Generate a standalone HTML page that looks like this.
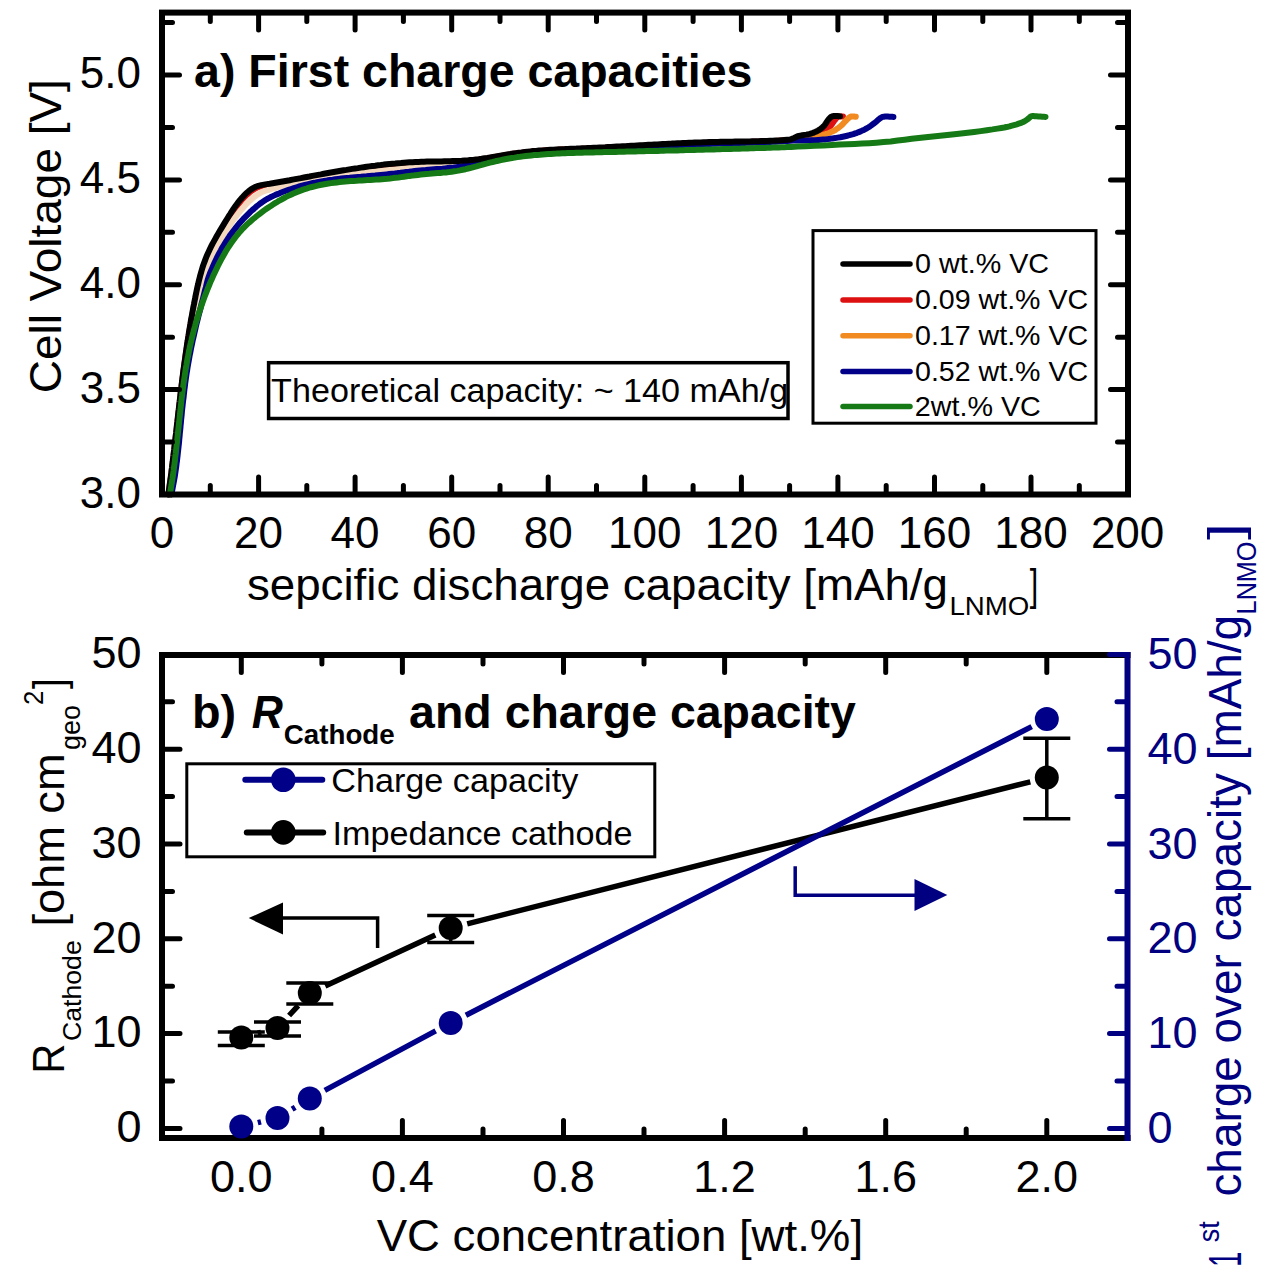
<!DOCTYPE html>
<html><head><meta charset="utf-8"><style>
html,body{margin:0;padding:0;background:#fff;}
svg{display:block;}
text{font-family:"Liberation Sans",sans-serif;}
</style></head><body>
<svg width="1280" height="1280" viewBox="0 0 1280 1280" font-family="Liberation Sans, sans-serif">
<rect width="1280" height="1280" fill="#fff"/>
<g fill="none" stroke-width="6.0" stroke-linejoin="round" stroke-linecap="round">
<path d="M168.5,494.5 L168.7,493.1 L169.1,490.2 L169.5,487.4 L169.9,484.5 L170.3,481.6 L170.7,478.8 L171.1,475.9 L171.5,473.1 L171.8,470.2 L172.2,467.4 L172.6,464.5 L172.9,461.6 L173.3,458.8 L173.6,455.9 L173.9,453.1 L174.3,450.2 L174.6,447.3 L174.9,444.5 L175.3,441.6 L175.6,438.7 L175.9,435.9 L176.2,433.0 L176.6,430.2 L176.9,427.3 L177.2,424.4 L177.5,421.6 L177.8,418.7 L178.2,415.8 L178.5,413.0 L178.8,410.1 L179.1,407.2 L179.5,404.4 L179.8,401.5 L180.1,398.6 L180.5,395.8 L180.8,392.9 L181.1,390.0 L181.5,387.2 L181.8,384.3 L182.2,381.5 L182.5,378.6 L182.9,375.7 L183.3,372.9 L183.7,370.0 L184.0,367.1 L184.4,364.3 L184.8,361.4 L185.2,358.6 L185.6,355.7 L186.0,352.9 L186.5,350.0 L186.9,347.1 L187.3,344.3 L187.8,341.4 L188.2,338.6 L188.7,335.7 L189.2,332.9 L189.6,330.1 L190.1,327.2 L190.6,324.4 L191.1,321.5 L191.7,318.7 L192.2,315.8 L192.7,313.0 L193.3,310.2 L193.8,307.3 L194.4,304.5 L194.9,301.7 L195.5,298.8 L196.1,296.0 L196.7,293.2 L197.3,290.4 L197.9,287.6 L198.6,284.7 L199.2,281.9 L200.0,279.1 L200.7,276.4 L201.5,273.6 L202.3,270.8 L203.2,268.1 L204.1,265.3 L205.0,262.6 L206.1,259.9 L207.1,257.2 L208.3,254.6 L209.5,252.0 L210.7,249.4 L212.0,246.8 L213.3,244.2 L214.7,241.7 L216.1,239.2 L217.5,236.7 L219.0,234.2 L220.5,231.7 L222.0,229.2 L223.5,226.8 L225.0,224.3 L226.5,221.9 L228.1,219.4 L229.6,217.0 L231.2,214.6 L232.7,212.2 L234.4,209.8 L236.0,207.4 L237.7,205.1 L239.5,202.8 L241.3,200.6 L243.2,198.5 L245.2,196.4 L247.3,194.4 L249.5,192.5 L251.7,190.7 L254.2,189.1 L256.7,187.8 L259.4,186.8 L262.2,186.1 L265.0,185.5 L267.9,185.0 L270.7,184.5 L273.5,183.9 L276.4,183.4 L279.2,182.9 L282.0,182.3 L284.8,181.8 L287.7,181.2 L290.5,180.7 L293.3,180.2 L296.2,179.6 L299.0,179.1 L301.8,178.5 L304.7,178.0 L307.5,177.5 L310.3,176.9 L313.2,176.4 L316.0,175.9 L318.9,175.4 L321.7,174.9 L324.5,174.4 L327.4,173.9 L330.2,173.4 L333.1,172.9 L335.9,172.4 L338.7,171.9 L341.6,171.4 L344.4,171.0 L347.3,170.5 L350.1,170.1 L353.0,169.6 L355.8,169.2 L358.7,168.8 L361.5,168.4 L364.4,168.0 L367.3,167.6 L370.1,167.2 L373.0,166.9 L375.9,166.5 L378.8,166.2 L381.6,165.8 L384.5,165.5 L387.4,165.2 L390.2,164.9 L393.1,164.6 L396.0,164.3 L398.9,164.1 L401.8,163.8 L404.6,163.6 L407.5,163.4 L410.4,163.2 L413.3,163.1 L416.2,162.9 L419.1,162.8 L422.0,162.7 L424.9,162.6 L427.7,162.5 L430.6,162.4 L433.5,162.3 L436.4,162.3 L439.3,162.2 L442.2,162.2 L445.1,162.1 L448.0,162.0 L450.8,161.9 L453.7,161.8 L456.6,161.7 L459.5,161.5 L462.4,161.4 L465.2,161.1 L468.1,160.9 L471.0,160.6 L473.9,160.3 L476.7,159.9 L479.6,159.5 L482.4,159.1 L485.3,158.7 L488.1,158.2 L491.0,157.7 L493.8,157.2 L496.7,156.7 L499.5,156.2 L502.3,155.7 L505.2,155.2 L508.0,154.7 L510.9,154.3 L513.7,153.8 L516.6,153.4 L519.5,153.0 L522.3,152.7 L525.2,152.4 L528.1,152.0 L530.9,151.8 L533.8,151.5 L536.7,151.2 L539.6,151.0 L542.4,150.8 L545.3,150.6 L548.2,150.4 L551.1,150.2 L554.0,150.0 L556.8,149.9 L559.7,149.7 L562.6,149.6 L565.5,149.5 L568.4,149.4 L571.2,149.2 L574.1,149.1 L577.0,149.0 L579.9,148.9 L582.8,148.8 L585.7,148.7 L588.5,148.6 L591.4,148.5 L594.3,148.3 L597.2,148.2 L600.1,148.1 L602.9,147.9 L605.8,147.8 L608.7,147.7 L611.6,147.5 L614.5,147.4 L617.3,147.3 L620.2,147.1 L623.1,146.9 L626.0,146.8 L628.8,146.6 L631.7,146.5 L634.6,146.3 L637.4,146.2 L640.3,146.0 L643.2,145.8 L646.1,145.7 L648.9,145.5 L651.8,145.4 L654.7,145.2 L657.6,145.0 L660.4,144.9 L663.3,144.7 L666.2,144.6 L669.1,144.4 L671.9,144.3 L674.8,144.1 L677.7,144.0 L680.6,143.9 L683.4,143.7 L686.3,143.6 L689.2,143.5 L692.1,143.4 L694.9,143.2 L697.8,143.1 L700.7,143.0 L703.6,142.9 L706.5,142.8 L709.3,142.7 L712.2,142.7 L715.1,142.6 L718.0,142.5 L720.9,142.5 L723.7,142.4 L726.6,142.3 L729.5,142.3 L732.4,142.2 L735.3,142.2 L738.1,142.1 L741.0,142.1 L743.9,142.0 L746.8,142.0 L749.7,141.9 L752.6,141.8 L755.4,141.8 L758.3,141.7 L761.2,141.6 L764.1,141.5 L767.0,141.4 L769.8,141.3 L772.7,141.1 L775.6,141.0 L778.5,140.8 L781.4,140.6 L784.2,140.5 L787.1,140.2 L790.0,140.0 L791.6,139.7 L793.2,139.2 L794.8,138.7 L796.5,138.2 L798.2,137.7 L800.0,137.2 L801.9,136.8 L803.9,136.5 L806.0,136.1 L808.1,135.8 L810.1,135.4 L812.0,135.0 L813.8,134.5 L815.6,134.1 L817.2,133.6 L818.9,133.1 L820.5,132.5 L822.0,131.8 L823.5,131.0 L824.9,130.2 L826.3,129.3 L827.7,128.4 L828.9,127.4 L830.0,126.5 L831.0,125.5 L831.8,124.5 L832.5,123.4 L833.2,122.4 L833.8,121.4 L834.5,120.5 L835.1,119.7 L835.7,119.0 L836.2,118.3 L836.8,117.7 L837.3,117.2 L838.0,116.8 L838.8,116.6 L839.7,116.5 L840.7,116.5 L841.6,116.5 L842.4,116.6 L843.0,116.6 L843.0,116.6" stroke="#dd1111"/>
<path d="M168.6,494.5 L168.8,493.1 L169.3,490.2 L169.7,487.4 L170.1,484.5 L170.5,481.7 L170.9,478.8 L171.3,476.0 L171.7,473.1 L172.0,470.3 L172.4,467.4 L172.8,464.6 L173.1,461.7 L173.5,458.9 L173.8,456.0 L174.2,453.2 L174.5,450.3 L174.8,447.5 L175.2,444.6 L175.5,441.8 L175.8,438.9 L176.1,436.1 L176.5,433.2 L176.8,430.4 L177.1,427.5 L177.4,424.7 L177.7,421.8 L178.1,419.0 L178.4,416.1 L178.7,413.3 L179.0,410.4 L179.4,407.6 L179.7,404.7 L180.0,401.9 L180.3,399.0 L180.7,396.2 L181.0,393.3 L181.4,390.5 L181.7,387.6 L182.1,384.8 L182.4,382.0 L182.8,379.1 L183.2,376.3 L183.5,373.4 L183.9,370.6 L184.3,367.7 L184.7,364.9 L185.1,362.1 L185.6,359.2 L186.0,356.4 L186.4,353.6 L186.9,350.8 L187.3,347.9 L187.8,345.1 L188.3,342.3 L188.8,339.5 L189.3,336.6 L189.8,333.8 L190.3,331.0 L190.9,328.2 L191.4,325.4 L192.0,322.6 L192.6,319.8 L193.2,317.0 L193.8,314.2 L194.4,311.4 L195.0,308.6 L195.7,305.9 L196.3,303.1 L197.0,300.3 L197.7,297.5 L198.4,294.8 L199.1,292.0 L199.8,289.2 L200.6,286.5 L201.4,283.7 L202.2,281.0 L203.0,278.3 L203.9,275.6 L204.8,272.9 L205.8,270.2 L206.8,267.5 L207.8,264.8 L208.9,262.2 L210.0,259.6 L211.2,257.0 L212.4,254.4 L213.7,251.8 L215.1,249.3 L216.4,246.8 L217.8,244.3 L219.2,241.8 L220.7,239.3 L222.2,236.9 L223.7,234.5 L225.2,232.0 L226.8,229.6 L228.4,227.3 L230.0,224.9 L231.6,222.5 L233.2,220.2 L234.9,217.9 L236.6,215.6 L238.4,213.4 L240.1,211.1 L242.0,209.0 L243.9,206.8 L245.8,204.7 L247.8,202.7 L249.9,200.7 L252.0,198.8 L254.2,197.0 L256.5,195.3 L258.9,193.7 L261.4,192.3 L264.0,191.2 L266.7,190.3 L269.4,189.5 L272.1,188.7 L274.9,188.0 L277.6,187.2 L280.3,186.5 L283.1,185.8 L285.9,185.1 L288.6,184.4 L291.4,183.8 L294.2,183.1 L297.0,182.5 L299.8,181.9 L302.7,181.3 L305.5,180.8 L308.3,180.2 L311.2,179.7 L314.0,179.2 L316.9,178.7 L319.7,178.2 L322.6,177.7 L325.4,177.3 L328.3,176.8 L331.2,176.4 L334.0,176.0 L336.9,175.6 L339.8,175.2 L342.6,174.9 L345.5,174.5 L348.4,174.2 L351.2,173.8 L354.1,173.5 L357.0,173.2 L359.8,172.9 L362.7,172.6 L365.6,172.3 L368.4,172.0 L371.3,171.7 L374.2,171.4 L377.1,171.1 L379.9,170.8 L382.8,170.6 L385.7,170.3 L388.5,170.0 L391.4,169.7 L394.3,169.4 L397.1,169.1 L400.0,168.8 L402.9,168.5 L405.8,168.3 L408.6,168.0 L411.4,167.7 L414.2,167.4 L417.1,167.2 L419.9,167.0 L422.7,166.8 L425.6,166.6 L428.4,166.4 L431.3,166.3 L434.1,166.1 L436.9,166.0 L439.8,165.8 L442.6,165.7 L445.4,165.5 L448.3,165.3 L451.1,165.1 L453.9,164.8 L456.7,164.5 L459.6,164.2 L462.4,163.9 L465.2,163.5 L468.0,163.1 L470.8,162.7 L473.6,162.2 L476.4,161.8 L479.2,161.3 L482.0,160.8 L484.8,160.2 L487.6,159.7 L490.4,159.2 L493.2,158.6 L496.0,158.1 L498.8,157.5 L501.6,157.0 L504.4,156.5 L507.2,156.0 L510.0,155.6 L512.8,155.1 L515.6,154.7 L518.5,154.3 L521.3,153.9 L524.1,153.6 L526.9,153.2 L529.8,152.9 L532.6,152.6 L535.5,152.4 L538.3,152.1 L541.1,151.9 L544.0,151.6 L546.8,151.4 L549.7,151.3 L552.5,151.1 L555.3,150.9 L558.2,150.8 L561.0,150.6 L563.9,150.5 L566.7,150.3 L569.6,150.2 L572.4,150.1 L575.3,150.0 L578.1,149.9 L581.0,149.7 L583.8,149.6 L586.7,149.5 L589.5,149.4 L592.4,149.3 L595.2,149.2 L598.1,149.0 L601.0,148.9 L603.8,148.8 L606.7,148.6 L609.5,148.5 L612.4,148.4 L615.2,148.2 L618.1,148.1 L620.9,147.9 L623.8,147.8 L626.6,147.7 L629.5,147.5 L632.4,147.4 L635.2,147.2 L638.1,147.0 L640.9,146.9 L643.8,146.7 L646.6,146.6 L649.5,146.4 L652.4,146.3 L655.2,146.1 L658.1,146.0 L660.9,145.8 L663.8,145.7 L666.6,145.5 L669.5,145.4 L672.4,145.2 L675.2,145.1 L678.1,145.0 L681.0,144.8 L683.8,144.7 L686.7,144.6 L689.5,144.4 L692.4,144.3 L695.3,144.2 L698.1,144.1 L701.0,144.0 L703.9,143.9 L706.7,143.8 L709.6,143.7 L712.5,143.6 L715.3,143.5 L718.2,143.4 L721.1,143.3 L723.9,143.3 L726.8,143.2 L729.7,143.1 L732.6,143.1 L735.4,143.0 L738.3,142.9 L741.2,142.9 L744.0,142.8 L746.9,142.7 L749.8,142.6 L752.7,142.6 L755.5,142.5 L758.4,142.4 L761.3,142.3 L764.1,142.2 L767.0,142.1 L769.9,141.9 L772.8,141.8 L775.6,141.7 L778.5,141.5 L781.4,141.3 L784.3,141.1 L787.1,140.9 L790.0,140.7 L792.5,140.3 L795.5,139.9 L798.7,139.4 L798.7,139.4" stroke="#f4d9bf"/>
<path d="M795.5,139.9 L797.0,139.7 L800.3,139.2 L803.6,138.6 L806.6,138.1 L809.3,137.7 L811.9,137.2 L814.3,136.8 L816.6,136.4 L818.8,136.0 L821.0,135.5 L823.0,134.9 L825.0,134.3 L826.9,133.7 L828.8,133.0 L830.5,132.3 L832.2,131.6 L833.8,130.8 L835.3,130.0 L836.6,129.1 L838.0,128.2 L839.2,127.2 L840.4,126.3 L841.6,125.3 L842.7,124.2 L843.7,123.1 L844.7,121.9 L845.7,120.9 L846.6,119.9 L847.4,119.1 L848.1,118.5 L848.8,117.9 L849.4,117.4 L850.0,117.0 L850.6,116.7 L851.4,116.5 L852.3,116.4 L853.3,116.5 L854.2,116.6 L855.1,116.7 L855.8,116.8" stroke="#f28a22"/>
<path d="M171.3,494.4 L171.6,493.1 L172.2,490.4 L172.7,487.7 L173.2,485.0 L173.7,482.4 L174.2,479.7 L174.7,477.0 L175.1,474.3 L175.5,471.5 L175.9,468.8 L176.3,466.1 L176.6,463.4 L177.0,460.7 L177.3,458.0 L177.6,455.3 L177.9,452.5 L178.2,449.8 L178.5,447.1 L178.8,444.4 L179.1,441.7 L179.3,438.9 L179.6,436.2 L179.8,433.5 L180.1,430.8 L180.4,428.0 L180.6,425.3 L180.9,422.6 L181.1,419.9 L181.4,417.1 L181.7,414.4 L181.9,411.7 L182.2,409.0 L182.5,406.3 L182.8,403.5 L183.1,400.8 L183.5,398.1 L183.8,395.3 L184.1,392.5 L184.4,389.7 L184.8,386.9 L185.1,384.1 L185.5,381.2 L185.9,378.4 L186.3,375.6 L186.7,372.8 L187.2,369.9 L187.6,367.1 L188.1,364.3 L188.6,361.4 L189.1,358.6 L189.6,355.7 L190.2,352.9 L190.7,350.1 L191.3,347.2 L191.9,344.4 L192.5,341.5 L193.1,338.7 L193.8,335.8 L194.4,333.0 L195.1,330.1 L195.7,327.3 L196.4,324.4 L197.1,321.6 L197.8,318.8 L198.5,315.9 L199.2,313.1 L200.0,310.3 L200.7,307.4 L201.4,304.6 L202.1,301.7 L202.9,298.9 L203.6,296.0 L204.3,293.2 L205.0,290.3 L205.8,287.5 L206.5,284.6 L207.2,281.7 L208.0,278.9 L208.9,276.2 L209.9,273.5 L211.0,270.9 L212.1,268.3 L213.2,265.7 L214.4,263.1 L215.6,260.5 L216.8,257.9 L218.1,255.4 L219.4,252.9 L220.8,250.4 L222.1,247.9 L223.6,245.5 L225.1,243.0 L226.6,240.6 L228.2,238.3 L229.7,235.9 L231.4,233.6 L233.1,231.3 L234.8,229.1 L236.5,226.9 L238.3,224.7 L240.1,222.5 L242.0,220.4 L243.9,218.3 L245.9,216.3 L247.9,214.3 L249.9,212.3 L252.0,210.4 L254.1,208.6 L256.2,206.7 L258.4,205.0 L260.7,203.2 L263.0,201.6 L265.4,200.0 L267.8,198.6 L270.3,197.3 L272.8,196.1 L275.4,194.9 L278.0,193.9 L280.6,192.8 L283.2,191.8 L285.9,190.8 L288.5,189.9 L291.2,189.0 L293.9,188.1 L296.6,187.3 L299.3,186.5 L302.0,185.7 L304.8,185.0 L307.5,184.3 L310.3,183.6 L313.0,183.0 L315.8,182.5 L318.6,181.9 L321.4,181.4 L324.2,180.9 L327.0,180.5 L329.8,180.0 L332.6,179.7 L335.4,179.3 L338.3,178.9 L341.1,178.6 L343.9,178.3 L346.7,178.0 L349.6,177.8 L352.4,177.5 L355.2,177.2 L358.1,177.0 L360.9,176.8 L363.7,176.5 L366.6,176.3 L369.4,176.0 L372.2,175.8 L375.1,175.6 L377.9,175.3 L380.7,175.0 L383.5,174.7 L386.4,174.4 L389.2,174.1 L392.0,173.8 L394.8,173.5 L397.7,173.1 L400.5,172.8 L403.3,172.4 L406.1,172.1 L409.0,171.8 L411.7,171.4 L414.5,171.1 L417.3,170.8 L420.1,170.5 L422.9,170.2 L425.7,170.0 L428.5,169.7 L431.3,169.5 L434.1,169.3 L436.9,169.1 L439.7,168.9 L442.5,168.7 L445.2,168.4 L448.0,168.1 L450.8,167.8 L453.6,167.5 L456.4,167.1 L459.2,166.7 L461.9,166.2 L464.7,165.7 L467.4,165.2 L470.2,164.7 L472.9,164.1 L475.7,163.5 L478.4,162.9 L481.2,162.3 L483.9,161.7 L486.7,161.1 L489.4,160.5 L492.2,159.9 L494.9,159.3 L497.6,158.8 L500.4,158.2 L503.1,157.7 L505.9,157.1 L508.6,156.6 L511.4,156.2 L514.1,155.7 L516.9,155.3 L519.7,154.8 L522.4,154.5 L525.2,154.1 L528.0,153.8 L530.8,153.4 L533.6,153.1 L536.4,152.8 L539.2,152.6 L542.0,152.3 L544.8,152.1 L547.6,151.9 L550.4,151.7 L553.2,151.5 L556.0,151.3 L558.8,151.2 L561.7,151.0 L564.5,150.9 L567.3,150.7 L570.2,150.6 L573.0,150.5 L575.8,150.4 L578.7,150.2 L581.5,150.1 L584.3,150.0 L587.2,149.9 L590.0,149.8 L592.8,149.7 L595.7,149.5 L598.5,149.4 L601.3,149.3 L604.2,149.1 L607.0,149.0 L609.9,148.9 L612.7,148.7 L615.5,148.6 L618.4,148.4 L621.2,148.3 L624.1,148.1 L626.9,148.0 L629.8,147.8 L632.6,147.7 L635.5,147.5 L638.3,147.4 L641.1,147.2 L644.0,147.1 L646.8,146.9 L649.7,146.8 L652.5,146.6 L655.4,146.5 L658.2,146.3 L661.1,146.2 L663.9,146.0 L666.8,145.9 L669.7,145.7 L672.5,145.6 L675.4,145.4 L678.2,145.3 L681.1,145.1 L683.9,145.0 L686.8,144.8 L689.6,144.7 L692.5,144.6 L695.4,144.5 L698.2,144.3 L701.1,144.2 L703.9,144.1 L706.8,144.0 L709.7,143.9 L712.5,143.8 L715.4,143.7 L718.3,143.6 L721.1,143.5 L724.0,143.4 L726.9,143.4 L729.7,143.3 L732.6,143.2 L735.5,143.1 L738.3,143.1 L741.2,143.0 L744.1,142.9 L746.9,142.8 L749.8,142.8 L752.7,142.7 L755.5,142.6 L758.4,142.5 L761.3,142.4 L764.2,142.3 L767.0,142.1 L769.9,142.0 L772.8,141.8 L775.6,141.7 L778.5,141.5 L781.4,141.3 L784.3,141.1 L787.1,140.9 L790.0,140.7 L793.3,140.6 L797.5,140.5 L802.1,140.5 L806.8,140.4 L811.2,140.3 L815.0,140.2 L818.1,140.0 L820.7,139.8 L823.1,139.6 L825.4,139.4 L827.6,139.1 L830.0,138.8 L832.5,138.4 L835.1,138.1 L837.7,137.6 L840.2,137.2 L842.7,136.7 L845.0,136.2 L847.2,135.7 L849.3,135.2 L851.3,134.6 L853.3,134.1 L855.2,133.4 L857.0,132.8 L858.8,132.1 L860.6,131.4 L862.2,130.6 L863.9,129.9 L865.5,129.0 L867.0,128.2 L868.5,127.3 L869.9,126.4 L871.3,125.4 L872.6,124.4 L873.8,123.5 L875.0,122.6 L876.1,121.7 L877.1,120.9 L878.0,120.0 L878.8,119.3 L879.7,118.6 L880.5,118.0 L881.3,117.6 L881.9,117.2 L882.6,117.0 L883.2,116.8 L884.0,116.7 L885.0,116.6 L886.3,116.6 L887.8,116.6 L889.5,116.7 L891.1,116.8 L892.4,116.8 L893.4,116.9 L893.4,116.9" stroke="#000088"/>
<path d="M168.3,494.5 L168.5,493.1 L168.9,490.2 L169.3,487.3 L169.7,484.5 L170.1,481.6 L170.5,478.7 L170.9,475.9 L171.3,473.0 L171.6,470.1 L172.0,467.3 L172.3,464.4 L172.7,461.5 L173.0,458.7 L173.4,455.8 L173.7,452.9 L174.1,450.1 L174.4,447.2 L174.7,444.3 L175.1,441.5 L175.4,438.6 L175.7,435.7 L176.1,432.8 L176.4,430.0 L176.7,427.1 L177.0,424.2 L177.4,421.4 L177.7,418.5 L178.0,415.6 L178.3,412.7 L178.7,409.9 L179.0,407.0 L179.3,404.1 L179.7,401.3 L180.0,398.4 L180.3,395.5 L180.7,392.7 L181.0,389.8 L181.4,386.9 L181.7,384.1 L182.1,381.2 L182.4,378.3 L182.8,375.5 L183.1,372.6 L183.5,369.7 L183.9,366.9 L184.3,364.0 L184.7,361.1 L185.1,358.3 L185.5,355.4 L185.9,352.5 L186.3,349.7 L186.7,346.8 L187.1,344.0 L187.6,341.1 L188.0,338.3 L188.5,335.4 L188.9,332.6 L189.4,329.7 L189.9,326.8 L190.4,324.0 L190.8,321.2 L191.3,318.3 L191.9,315.5 L192.4,312.6 L192.9,309.8 L193.4,306.9 L194.0,304.1 L194.5,301.3 L195.1,298.4 L195.6,295.6 L196.2,292.8 L196.8,289.9 L197.4,287.1 L198.1,284.3 L198.7,281.5 L199.4,278.7 L200.1,275.9 L200.9,273.1 L201.7,270.3 L202.5,267.5 L203.4,264.8 L204.4,262.1 L205.4,259.4 L206.4,256.7 L207.6,254.0 L208.8,251.4 L210.0,248.8 L211.3,246.2 L212.6,243.6 L214.0,241.1 L215.4,238.6 L216.8,236.0 L218.3,233.5 L219.7,231.1 L221.2,228.6 L222.7,226.1 L224.2,223.6 L225.7,221.2 L227.2,218.7 L228.7,216.2 L230.3,213.8 L231.8,211.4 L233.4,209.0 L235.1,206.6 L236.8,204.2 L238.5,201.9 L240.3,199.7 L242.2,197.5 L244.2,195.4 L246.2,193.3 L248.4,191.4 L250.7,189.6 L253.1,188.1 L255.7,186.8 L258.4,185.8 L261.2,185.1 L264.0,184.6 L266.9,184.1 L269.7,183.7 L272.6,183.2 L275.4,182.7 L278.3,182.2 L281.1,181.7 L284.0,181.2 L286.8,180.7 L289.7,180.2 L292.5,179.6 L295.3,179.1 L298.2,178.6 L301.0,178.1 L303.9,177.5 L306.7,177.0 L309.5,176.5 L312.4,175.9 L315.2,175.4 L318.1,174.9 L320.9,174.4 L323.8,173.8 L326.6,173.3 L329.4,172.8 L332.3,172.3 L335.1,171.8 L338.0,171.3 L340.8,170.8 L343.7,170.3 L346.5,169.9 L349.4,169.4 L352.2,168.9 L355.1,168.5 L357.9,168.1 L360.8,167.6 L363.7,167.2 L366.5,166.8 L369.4,166.4 L372.2,166.0 L375.1,165.7 L378.0,165.3 L380.8,165.0 L383.7,164.6 L386.6,164.3 L389.5,164.0 L392.3,163.7 L395.2,163.5 L398.1,163.2 L401.0,163.0 L403.8,162.7 L406.7,162.5 L409.6,162.3 L412.5,162.2 L415.4,162.0 L418.3,161.9 L421.2,161.8 L424.0,161.7 L426.9,161.6 L429.8,161.5 L432.7,161.5 L435.6,161.4 L438.5,161.4 L441.4,161.4 L444.3,161.3 L447.2,161.3 L450.0,161.2 L452.9,161.1 L455.8,161.0 L458.7,160.9 L461.6,160.8 L464.5,160.6 L467.4,160.4 L470.2,160.1 L473.1,159.9 L476.0,159.5 L478.9,159.2 L481.7,158.8 L484.6,158.3 L487.4,157.9 L490.3,157.4 L493.1,156.9 L496.0,156.4 L498.8,155.9 L501.7,155.4 L504.5,154.9 L507.3,154.4 L510.2,154.0 L513.1,153.5 L515.9,153.1 L518.8,152.7 L521.6,152.4 L524.5,152.0 L527.4,151.7 L530.3,151.4 L533.1,151.1 L536.0,150.9 L538.9,150.6 L541.8,150.4 L544.7,150.2 L547.5,150.0 L550.4,149.8 L553.3,149.7 L556.2,149.5 L559.1,149.3 L562.0,149.2 L564.9,149.1 L567.7,148.9 L570.6,148.8 L573.5,148.7 L576.4,148.6 L579.3,148.4 L582.2,148.3 L585.1,148.2 L587.9,148.1 L590.8,148.0 L593.7,147.8 L596.6,147.7 L599.5,147.5 L602.4,147.4 L605.3,147.3 L608.1,147.1 L611.0,147.0 L613.9,146.8 L616.8,146.6 L619.7,146.5 L622.6,146.3 L625.5,146.2 L628.3,146.0 L631.2,145.8 L634.1,145.7 L637.0,145.5 L639.9,145.3 L642.8,145.2 L645.7,145.0 L648.5,144.8 L651.4,144.7 L654.3,144.5 L657.2,144.4 L660.1,144.2 L663.0,144.0 L665.8,143.9 L668.7,143.7 L671.6,143.6 L674.5,143.4 L677.4,143.3 L680.3,143.2 L683.2,143.0 L686.0,142.9 L688.9,142.8 L691.8,142.7 L694.7,142.6 L697.6,142.5 L700.5,142.4 L703.4,142.3 L706.3,142.2 L709.1,142.1 L712.0,142.0 L714.9,142.0 L717.8,141.9 L720.7,141.8 L723.6,141.8 L726.5,141.8 L729.4,141.7 L732.3,141.7 L735.1,141.6 L738.0,141.6 L740.9,141.5 L743.8,141.5 L746.7,141.5 L749.6,141.4 L752.5,141.3 L755.4,141.3 L758.3,141.2 L761.1,141.1 L764.0,141.0 L766.9,140.9 L769.8,140.8 L772.7,140.7 L775.6,140.5 L778.5,140.4 L781.4,140.2 L784.2,140.0 L787.1,139.8 L790.0,139.6 L791.4,139.1 L792.8,138.5 L794.2,137.9 L795.6,137.2 L797.1,136.5 L798.8,136.0 L800.5,135.6 L802.4,135.2 L804.4,134.9 L806.4,134.6 L808.3,134.2 L810.0,133.8 L811.5,133.3 L813.0,132.9 L814.3,132.4 L815.6,131.8 L816.8,131.2 L818.0,130.6 L819.1,129.9 L820.2,129.2 L821.2,128.4 L822.2,127.6 L823.1,126.7 L824.0,125.8 L824.8,124.8 L825.6,123.7 L826.4,122.5 L827.1,121.4 L827.8,120.4 L828.5,119.5 L829.1,118.8 L829.7,118.1 L830.2,117.6 L830.8,117.1 L831.3,116.7 L832.0,116.4 L832.8,116.2 L833.6,116.1 L834.5,116.0 L835.4,116.1 L836.3,116.1 L837.0,116.1 L837.7,116.1 L838.3,116.1 L838.8,116.2 L839.3,116.2 L839.7,116.3 L840.0,116.3 L840.0,116.3" stroke="#000"/>
<path d="M169.8,494.5 L170.1,493.1 L170.6,490.3 L171.0,487.5 L171.5,484.8 L171.9,482.0 L172.4,479.2 L172.8,476.4 L173.2,473.6 L173.6,470.8 L173.9,468.1 L174.3,465.3 L174.7,462.5 L175.0,459.7 L175.3,456.9 L175.7,454.1 L176.0,451.3 L176.3,448.5 L176.6,445.7 L176.9,442.9 L177.2,440.1 L177.5,437.3 L177.8,434.5 L178.1,431.7 L178.4,428.9 L178.7,426.1 L179.0,423.3 L179.3,420.5 L179.6,417.7 L179.9,414.9 L180.2,412.1 L180.5,409.4 L180.8,406.6 L181.1,403.8 L181.4,401.0 L181.7,398.2 L182.1,395.4 L182.4,392.6 L182.8,389.8 L183.1,387.0 L183.5,384.2 L183.9,381.4 L184.3,378.6 L184.7,375.9 L185.1,373.1 L185.5,370.3 L186.0,367.5 L186.5,364.7 L186.9,362.0 L187.4,359.2 L188.0,356.4 L188.5,353.7 L189.0,350.9 L189.6,348.2 L190.2,345.4 L190.8,342.7 L191.5,339.9 L192.1,337.2 L192.8,334.5 L193.5,331.7 L194.2,329.0 L195.0,326.3 L195.7,323.6 L196.5,320.9 L197.3,318.2 L198.2,315.5 L199.0,312.8 L199.9,310.2 L200.8,307.5 L201.7,304.8 L202.6,302.2 L203.6,299.5 L204.5,296.9 L205.5,294.3 L206.6,291.6 L207.6,289.0 L208.7,286.4 L209.7,283.8 L210.8,281.2 L212.0,278.7 L213.1,276.1 L214.3,273.5 L215.5,271.0 L216.7,268.5 L217.9,265.9 L219.2,263.4 L220.5,260.9 L221.8,258.4 L223.2,256.0 L224.6,253.5 L226.0,251.1 L227.4,248.7 L229.0,246.3 L230.5,244.0 L232.1,241.7 L233.8,239.4 L235.5,237.2 L237.2,235.0 L239.0,232.8 L240.9,230.7 L242.8,228.6 L244.8,226.6 L246.8,224.7 L248.9,222.7 L250.9,220.9 L253.1,219.0 L255.3,217.3 L257.5,215.5 L259.7,213.8 L261.9,212.1 L264.2,210.4 L266.5,208.8 L268.8,207.2 L271.2,205.7 L273.5,204.1 L275.9,202.7 L278.3,201.2 L280.8,199.8 L283.2,198.5 L285.7,197.1 L288.2,195.9 L290.8,194.7 L293.3,193.5 L295.9,192.4 L298.5,191.4 L301.2,190.4 L303.8,189.4 L306.5,188.6 L309.2,187.7 L311.9,187.0 L314.6,186.3 L317.4,185.6 L320.1,185.0 L322.9,184.5 L325.6,184.0 L328.4,183.5 L331.2,183.1 L334.0,182.7 L336.8,182.4 L339.6,182.1 L342.4,181.8 L345.2,181.5 L348.0,181.3 L350.8,181.1 L353.6,180.9 L356.4,180.8 L359.2,180.6 L362.0,180.5 L364.8,180.3 L367.6,180.1 L370.4,180.0 L373.2,179.8 L376.0,179.6 L378.9,179.5 L381.7,179.2 L384.5,179.0 L387.3,178.8 L390.1,178.5 L392.9,178.1 L395.6,177.8 L398.4,177.5 L401.2,177.1 L404.0,176.7 L406.8,176.3 L409.6,175.9 L412.4,175.6 L415.2,175.2 L418.0,174.9 L420.8,174.6 L423.6,174.3 L426.4,174.0 L429.2,173.8 L432.0,173.5 L434.8,173.3 L437.6,173.1 L440.4,172.9 L443.2,172.6 L446.0,172.4 L448.8,172.1 L451.6,171.7 L454.4,171.3 L457.1,170.9 L459.9,170.4 L462.6,169.8 L465.4,169.2 L468.1,168.5 L470.9,167.8 L473.6,167.1 L476.3,166.4 L479.0,165.6 L481.7,164.9 L484.4,164.1 L487.1,163.4 L489.8,162.6 L492.6,162.0 L495.3,161.3 L498.1,160.7 L500.8,160.1 L503.6,159.5 L506.3,159.0 L509.1,158.5 L511.9,158.0 L514.6,157.6 L517.4,157.1 L520.2,156.8 L523.0,156.4 L525.8,156.0 L528.6,155.7 L531.4,155.4 L534.2,155.1 L537.0,154.9 L539.8,154.7 L542.6,154.4 L545.4,154.2 L548.2,154.0 L551.0,153.9 L553.8,153.7 L556.6,153.6 L559.4,153.4 L562.2,153.3 L565.1,153.2 L567.9,153.1 L570.7,153.0 L573.5,152.9 L576.3,152.8 L579.1,152.7 L581.9,152.7 L584.7,152.6 L587.5,152.5 L590.4,152.5 L593.2,152.4 L596.0,152.3 L598.8,152.3 L601.6,152.2 L604.4,152.1 L607.2,152.1 L610.0,152.0 L612.9,151.9 L615.7,151.9 L618.5,151.8 L621.3,151.7 L624.1,151.7 L626.9,151.6 L629.7,151.5 L632.5,151.5 L635.4,151.4 L638.2,151.3 L641.0,151.3 L643.8,151.2 L646.6,151.1 L649.4,151.1 L652.2,151.0 L655.0,150.9 L657.9,150.9 L660.7,150.8 L663.5,150.7 L666.3,150.6 L669.1,150.6 L671.9,150.5 L674.7,150.4 L677.5,150.4 L680.3,150.3 L683.2,150.2 L686.0,150.1 L688.8,150.1 L691.6,150.0 L694.4,149.9 L697.2,149.8 L700.0,149.8 L702.8,149.7 L705.7,149.6 L708.5,149.5 L711.3,149.5 L714.1,149.4 L716.9,149.3 L719.7,149.2 L722.5,149.1 L725.3,149.1 L728.2,149.0 L731.0,148.9 L733.8,148.8 L736.6,148.7 L739.4,148.7 L742.2,148.6 L745.0,148.5 L747.8,148.4 L750.6,148.3 L753.5,148.2 L756.3,148.1 L759.1,148.0 L761.9,147.9 L764.7,147.9 L767.5,147.8 L770.3,147.7 L773.1,147.6 L775.9,147.5 L778.8,147.4 L781.6,147.3 L784.4,147.2 L787.2,147.1 L791.2,146.9 L797.8,146.6 L805.8,146.3 L814.5,145.8 L823.5,145.4 L832.0,145.0 L839.8,144.6 L847.3,144.3 L854.7,143.9 L862.0,143.6 L869.2,143.2 L876.4,142.7 L883.6,142.1 L890.7,141.4 L897.7,140.5 L904.7,139.7 L911.7,138.8 L918.7,138.0 L925.7,137.2 L932.9,136.5 L940.1,135.8 L947.3,135.0 L954.3,134.3 L961.1,133.6 L967.6,132.8 L974.2,132.0 L980.7,131.1 L986.8,130.2 L992.5,129.4 L997.4,128.6 L1001.3,128.0 L1004.3,127.5 L1006.4,127.0 L1008.1,126.7 L1009.5,126.3 L1011.1,125.8 L1013.0,125.3 L1014.9,124.8 L1016.8,124.3 L1018.6,123.7 L1020.3,123.1 L1021.8,122.6 L1023.1,122.0 L1024.2,121.5 L1025.0,121.0 L1025.8,120.5 L1026.4,120.0 L1027.1,119.6 L1027.9,119.0 L1028.6,118.5 L1029.2,117.9 L1029.8,117.3 L1030.5,116.8 L1031.2,116.3 L1031.8,116.1 L1032.5,116.0 L1033.1,116.0 L1033.7,116.1 L1034.5,116.2 L1035.4,116.3 L1036.7,116.3 L1038.3,116.4 L1040.3,116.5 L1042.3,116.7 L1044.1,116.8 L1045.5,116.9" stroke="#157a15"/>
</g>
<rect x="162.0" y="12.6" width="966.0" height="481.9" fill="none" stroke="#000" stroke-width="6.0"/>
<path d="M210.3,494.5V485.5M210.3,12.6V21.6M258.6,494.5V477.0M258.6,12.6V30.1M306.8,494.5V485.5M306.8,12.6V21.6M355.1,494.5V477.0M355.1,12.6V30.1M403.4,494.5V485.5M403.4,12.6V21.6M451.7,494.5V477.0M451.7,12.6V30.1M500.0,494.5V485.5M500.0,12.6V21.6M548.2,494.5V477.0M548.2,12.6V30.1M596.5,494.5V485.5M596.5,12.6V21.6M644.8,494.5V477.0M644.8,12.6V30.1M693.1,494.5V485.5M693.1,12.6V21.6M741.4,494.5V477.0M741.4,12.6V30.1M789.6,494.5V485.5M789.6,12.6V21.6M837.9,494.5V477.0M837.9,12.6V30.1M886.2,494.5V485.5M886.2,12.6V21.6M934.5,494.5V477.0M934.5,12.6V30.1M982.8,494.5V485.5M982.8,12.6V21.6M1031.0,494.5V477.0M1031.0,12.6V30.1M1079.3,494.5V485.5M1079.3,12.6V21.6M162.0,442.1H172.5M1128.0,442.1H1117.5M162.0,389.6H179.5M1128.0,389.6H1110.5M162.0,337.2H172.5M1128.0,337.2H1117.5M162.0,284.8H179.5M1128.0,284.8H1110.5M162.0,232.3H172.5M1128.0,232.3H1117.5M162.0,179.9H179.5M1128.0,179.9H1110.5M162.0,127.4H172.5M1128.0,127.4H1117.5M162.0,75.0H179.5M1128.0,75.0H1110.5M162.0,22.6H172.5M1128.0,22.6H1117.5" stroke="#000" stroke-width="5.0" fill="none" stroke-linecap="round"/>
<text x="162.0" y="547.5" font-size="44" text-anchor="middle">0</text>
<text x="258.6" y="547.5" font-size="44" text-anchor="middle">20</text>
<text x="355.1" y="547.5" font-size="44" text-anchor="middle">40</text>
<text x="451.7" y="547.5" font-size="44" text-anchor="middle">60</text>
<text x="548.2" y="547.5" font-size="44" text-anchor="middle">80</text>
<text x="644.8" y="547.5" font-size="44" text-anchor="middle">100</text>
<text x="741.4" y="547.5" font-size="44" text-anchor="middle">120</text>
<text x="837.9" y="547.5" font-size="44" text-anchor="middle">140</text>
<text x="934.5" y="547.5" font-size="44" text-anchor="middle">160</text>
<text x="1031.0" y="547.5" font-size="44" text-anchor="middle">180</text>
<text x="1127.6" y="547.5" font-size="44" text-anchor="middle">200</text>
<text x="141" y="507.5" font-size="44" text-anchor="end">3.0</text>
<text x="141" y="402.6" font-size="44" text-anchor="end">3.5</text>
<text x="141" y="297.8" font-size="44" text-anchor="end">4.0</text>
<text x="141" y="192.9" font-size="44" text-anchor="end">4.5</text>
<text x="141" y="88.0" font-size="44" text-anchor="end">5.0</text>
<g transform="rotate(-90)"><text x="-393.30" y="60.50" font-size="45.00" textLength="314.18" lengthAdjust="spacingAndGlyphs">Cell Voltage [V]</text></g>
<text x="246.93" y="600.40" font-size="45.00" textLength="701.06" lengthAdjust="spacingAndGlyphs">sepcific discharge capacity [mAh/g</text>
<text x="949.44" y="615.30" font-size="26.00" textLength="79.88" lengthAdjust="spacingAndGlyphs">LNMO</text>
<text x="1029.75" y="600.40" font-size="45.00" textLength="8.45" lengthAdjust="spacingAndGlyphs">]</text>
<text x="194.12" y="86.60" font-size="46.50" font-weight="bold">a) First charge capacities</text>
<rect x="268.6" y="362.7" width="519.4" height="55.8" fill="none" stroke="#000" stroke-width="3.5"/>
<text x="271.14" y="402.30" font-size="33.50" textLength="517.07" lengthAdjust="spacingAndGlyphs">Theoretical capacity: ~ 140 mAh/g</text>
<rect x="813" y="230.6" width="283" height="192.6" fill="#fff" stroke="#000" stroke-width="3"/>
<path d="M843,264.0H910" stroke="#000" stroke-width="5.5" stroke-linecap="round"/>
<text x="915.05" y="273.40" font-size="28.00" textLength="134.06" lengthAdjust="spacingAndGlyphs">0 wt.% VC</text>
<path d="M843,300.0H910" stroke="#dd1111" stroke-width="5.5" stroke-linecap="round"/>
<text x="915.05" y="309.40" font-size="28.00" textLength="173.10" lengthAdjust="spacingAndGlyphs">0.09 wt.% VC</text>
<path d="M843,335.8H910" stroke="#f28a22" stroke-width="5.5" stroke-linecap="round"/>
<text x="915.05" y="345.20" font-size="28.00" textLength="173.10" lengthAdjust="spacingAndGlyphs">0.17 wt.% VC</text>
<path d="M843,371.4H910" stroke="#000088" stroke-width="5.5" stroke-linecap="round"/>
<text x="915.05" y="380.80" font-size="28.00" textLength="173.10" lengthAdjust="spacingAndGlyphs">0.52 wt.% VC</text>
<path d="M843,406.5H910" stroke="#157a15" stroke-width="5.5" stroke-linecap="round"/>
<text x="914.79" y="415.90" font-size="28.00" textLength="126.09" lengthAdjust="spacingAndGlyphs">2wt.% VC</text>
<path d="M162.0,655.0H1127.5M162.0,655.0V1138.0H1127.5" fill="none" stroke="#000" stroke-width="6.0" stroke-linecap="square"/>
<path d="M241.3,1138.0V1120.5M241.3,655.0V672.5M321.9,1138.0V1129.0M321.9,655.0V664.0M402.4,1138.0V1120.5M402.4,655.0V672.5M483.0,1138.0V1129.0M483.0,655.0V664.0M563.5,1138.0V1120.5M563.5,655.0V672.5M644.0,1138.0V1129.0M644.0,655.0V664.0M724.6,1138.0V1120.5M724.6,655.0V672.5M805.2,1138.0V1129.0M805.2,655.0V664.0M885.7,1138.0V1120.5M885.7,655.0V672.5M966.2,1138.0V1129.0M966.2,655.0V664.0M1046.8,1138.0V1120.5M1046.8,655.0V672.5M162.0,1128.4H180.0M162.0,1081.0H172.5M162.0,1033.6H180.0M162.0,986.2H172.5M162.0,938.8H180.0M162.0,891.4H172.5M162.0,844.0H180.0M162.0,796.6H172.5M162.0,749.2H180.0M162.0,701.8H172.5" stroke="#000" stroke-width="5.0" fill="none" stroke-linecap="round"/>
<path d="M1127.5,1128.4H1109.5M1127.5,1081.0H1117.0M1127.5,1033.6H1109.5M1127.5,986.2H1117.0M1127.5,938.8H1109.5M1127.5,891.4H1117.0M1127.5,844.0H1109.5M1127.5,796.6H1117.0M1127.5,749.2H1109.5M1127.5,701.8H1117.0M1127.5,654.4H1109.5" stroke="#000080" stroke-width="5.0" fill="none" stroke-linecap="round"/>
<path d="M1127.5,655.0V1138.0" stroke="#000080" stroke-width="6.0" stroke-linecap="square"/>
<text x="241.3" y="1191.5" font-size="45" text-anchor="middle">0.0</text>
<text x="402.4" y="1191.5" font-size="45" text-anchor="middle">0.4</text>
<text x="563.5" y="1191.5" font-size="45" text-anchor="middle">0.8</text>
<text x="724.6" y="1191.5" font-size="45" text-anchor="middle">1.2</text>
<text x="885.7" y="1191.5" font-size="45" text-anchor="middle">1.6</text>
<text x="1046.8" y="1191.5" font-size="45" text-anchor="middle">2.0</text>
<text x="141.5" y="1142.2" font-size="45" text-anchor="end">0</text>
<text x="1147.5" y="1142.9" font-size="45" fill="#000080">0</text>
<text x="141.5" y="1047.4" font-size="45" text-anchor="end">10</text>
<text x="1147.5" y="1048.1" font-size="45" fill="#000080">10</text>
<text x="141.5" y="952.6" font-size="45" text-anchor="end">20</text>
<text x="1147.5" y="953.3" font-size="45" fill="#000080">20</text>
<text x="141.5" y="857.8" font-size="45" text-anchor="end">30</text>
<text x="1147.5" y="858.5" font-size="45" fill="#000080">30</text>
<text x="141.5" y="763.0" font-size="45" text-anchor="end">40</text>
<text x="1147.5" y="763.7" font-size="45" fill="#000080">40</text>
<text x="141.5" y="668.2" font-size="45" text-anchor="end">50</text>
<text x="1147.5" y="668.9" font-size="45" fill="#000080">50</text>
<path d="M257.7,1033.2L261.1,1032.3M289.1,1015.5L298.2,1005.6M325.2,986.0L435.3,935.1M467.2,923.8L1030.3,781.8" fill="none" stroke="#000" stroke-width="5.5"/>
<path d="M257.8,1122.7L261.0,1121.9M292.1,1109.2L295.2,1107.3M324.8,1090.4L435.7,1030.9M465.9,1015.2L1031.7,726.6" fill="none" stroke="#000088" stroke-width="5.5"/>
<path d="M241.3,1032.0V1045.6M217.8,1032.0H264.8M217.8,1045.6H264.8M277.5,1021.9V1036.0M254.0,1021.9H301.0M254.0,1036.0H301.0M309.8,983.0V1004.1M286.3,983.0H333.3M286.3,1004.1H333.3M450.7,915.5V942.5M427.2,915.5H474.2M427.2,942.5H474.2M1046.8,738.3V818.7M1023.3,738.3H1070.3M1023.3,818.7H1070.3" fill="none" stroke="#000" stroke-width="3.5"/>
<circle cx="241.3" cy="1037.5" r="12" fill="#000"/>
<circle cx="277.5" cy="1028.0" r="12" fill="#000"/>
<circle cx="309.8" cy="993.1" r="12" fill="#000"/>
<circle cx="450.7" cy="928.0" r="12" fill="#000"/>
<circle cx="1046.8" cy="777.6" r="12" fill="#000"/>
<circle cx="241.3" cy="1126.6" r="12" fill="#000088"/>
<circle cx="277.5" cy="1118.0" r="12" fill="#000088"/>
<circle cx="309.8" cy="1098.4" r="12" fill="#000088"/>
<circle cx="450.7" cy="1022.9" r="12" fill="#000088"/>
<circle cx="1046.8" cy="718.9" r="12" fill="#000088"/>
<path d="M377.6,947.9V918.1H280" fill="none" stroke="#000" stroke-width="3.5"/>
<path d="M248.7,918.1L283,902.5L283,934.5Z" fill="#000"/>
<path d="M795.2,866.2V895.2H918" fill="none" stroke="#000080" stroke-width="3.5"/>
<path d="M947.3,895L914.5,879L914.5,911Z" fill="#000080"/>
<rect x="186.8" y="763.8" width="468" height="93" fill="#fff" stroke="#000" stroke-width="3"/>
<path d="M245.3,779.7H322.3" stroke="#000088" stroke-width="6" stroke-linecap="round"/>
<circle cx="283.3" cy="779.7" r="12.3" fill="#000088"/>
<path d="M246.8,832.4H323.2" stroke="#000" stroke-width="6" stroke-linecap="round"/>
<circle cx="283.3" cy="832.4" r="12.3" fill="#000"/>
<text x="331.24" y="792.00" font-size="34.00" textLength="247.03" lengthAdjust="spacingAndGlyphs">Charge capacity</text>
<text x="332.46" y="844.70" font-size="34.00" textLength="300.10" lengthAdjust="spacingAndGlyphs">Impedance cathode</text>
<text x="191.95" y="727.50" font-size="46.00" font-weight="bold" textLength="44.13" lengthAdjust="spacingAndGlyphs">b)</text>
<text x="251.68" y="727.50" font-size="46.00" font-weight="bold" font-style="italic" textLength="31.14" lengthAdjust="spacingAndGlyphs">R</text>
<text x="283.85" y="743.75" font-size="27.00" font-weight="bold" textLength="110.80" lengthAdjust="spacingAndGlyphs">Cathode</text>
<text x="409.11" y="727.50" font-size="46.00" font-weight="bold" textLength="446.81" lengthAdjust="spacingAndGlyphs">and charge capacity</text>
<text x="376.65" y="1250.50" font-size="45.00" textLength="486.41" lengthAdjust="spacingAndGlyphs">VC concentration [wt.%]</text>
<g transform="rotate(-90)"><text x="-1073.74" y="64.00" font-size="44.00" textLength="30.16" lengthAdjust="spacingAndGlyphs">R</text></g>
<g transform="rotate(-90)"><text x="-1041.01" y="80.50" font-size="26.00" textLength="100.72" lengthAdjust="spacingAndGlyphs">Cathode</text></g>
<g transform="rotate(-90)"><text x="-926.61" y="64.00" font-size="44.00" textLength="173.13" lengthAdjust="spacingAndGlyphs">[ohm cm</text></g>
<g transform="rotate(-90)"><text x="-750.02" y="80.20" font-size="27.00" textLength="44.89" lengthAdjust="spacingAndGlyphs">geo</text></g>
<g transform="rotate(-90)"><text x="-704.91" y="42.70" font-size="27.00" textLength="14.34" lengthAdjust="spacingAndGlyphs">2</text></g>
<g transform="rotate(-90)"><text x="-689.08" y="64.00" font-size="44.00" textLength="10.83" lengthAdjust="spacingAndGlyphs">]</text></g>
<g transform="rotate(-90)"><text x="-1266.79" y="1241.30" font-size="45.50" fill="#000080" textLength="15.09" lengthAdjust="spacingAndGlyphs">1</text></g>
<g transform="rotate(-90)"><text x="-1242.21" y="1219.40" font-size="29.00" fill="#000080" textLength="20.77" lengthAdjust="spacingAndGlyphs">st</text></g>
<g transform="rotate(-90)"><text x="-1196.59" y="1241.30" font-size="45.50" fill="#000080" textLength="581.70" lengthAdjust="spacingAndGlyphs">charge over capacity [mAh/g</text></g>
<g transform="rotate(-90)"><text x="-614.40" y="1256.00" font-size="27.00" fill="#000080" textLength="72.88" lengthAdjust="spacingAndGlyphs">LNMO</text></g>
<g transform="rotate(-90)"><text x="-539.90" y="1241.30" font-size="45.50" fill="#000080" textLength="16.85" lengthAdjust="spacingAndGlyphs">]</text></g>
</svg>
</body></html>
